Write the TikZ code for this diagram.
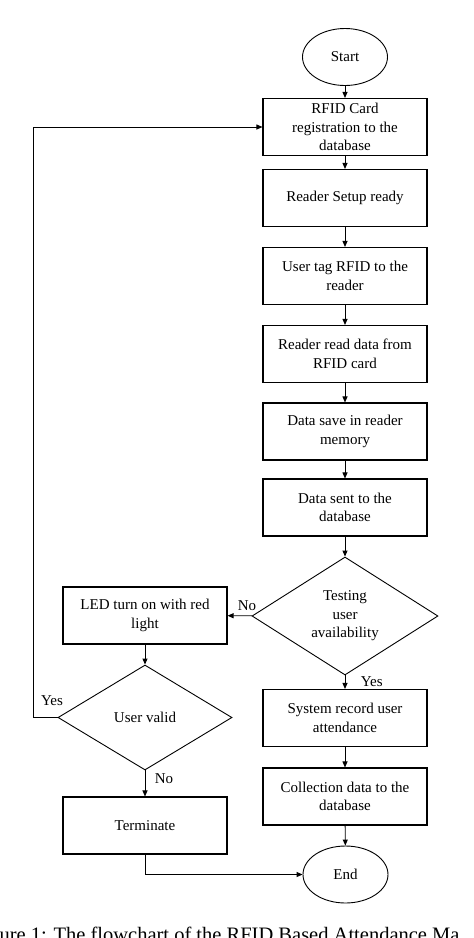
\documentclass[tikz,border=0pt]{standalone}
\usepackage{fontspec}
\setmainfont{Liberation Serif}
\usetikzlibrary{shapes.geometric,arrows.meta}

\begin{document}
\begin{tikzpicture}[x=1pt,y=-1pt,font=\fontsize{15}{18.5}\selectfont,
	>={Triangle[length=6pt,width=5pt]},
	procbox/.style={rectangle,draw,line width=1.1pt,minimum width=164pt,minimum height=57pt,align=center,inner sep=2pt},
	termin/.style={ellipse,draw,line width=0.9pt,minimum width=85pt,minimum height=57pt,inner sep=0pt},
	decide/.style={diamond,draw,line width=0.9pt,align=center,inner sep=0pt},
	flow/.style={->,line width=0.9pt}]
				\useasboundingbox (0,0) rectangle (474,938);
				
				\node (start) at (345,57) [termin] {Start};
				\node (reg) at (345,127) [procbox] {RFID Card\\registration to the\\database};
				\node (setup) at (345,198) [procbox] {Reader Setup ready};
				\node (tag) at (345,276) [procbox] {User tag RFID to the\\reader};
				\node (read) at (345,354) [procbox] {Reader read data from\\RFID card};
				\node (save) at (345,431.5) [procbox] {Data save in reader\\memory};
				\node (sent) at (345,507.5) [procbox] {Data sent to the\\database};
				\node (test) at (345,616) [decide,minimum width=186pt,minimum height=118pt,aspect=1.58] {Testing\\user\\availability};
				\node (led) at (145,615.5) [procbox] {LED turn on with red\\light};
				\node (valid) at (145,717.5) [decide,minimum width=174pt,minimum height=105pt,aspect=1.66] {User valid};
				\node (record) at (345,718) [procbox] {System record user\\attendance};
				\node (collect) at (345,796.5) [procbox] {Collection data to the\\database};
				\node (term) at (145,825.5) [procbox] {Terminate};
				\node (end) at (345.5,874.5) [termin] {End};
				
				\coordinate (loopb) at (33,717.5);
				\coordinate (loopt) at (33,127);
				\coordinate (bend) at (145,874.5);
				
				\draw[flow] (start) -- (reg);
				\draw[flow] (reg) -- (setup);
				\draw[flow] (setup) -- (tag);
				\draw[flow] (tag) -- (read);
				\draw[flow] (read) -- (save);
				\draw[flow] (save) -- (sent);
				\draw[flow] (sent) -- (test);
				\draw[flow] (test) -- node[pos=0.2,above=1pt] {No} (led);
				\draw[flow] (test) -- node[pos=0.45,right=12pt] {Yes} (record);
				\draw[flow] (record) -- (collect);
				\draw[flow] (collect) -- (end);
				\draw[flow] (led) -- (valid);
				\draw[flow] (valid.west) -- (loopb) -- (loopt) -- (reg.west);
				\draw[flow] (valid) -- node[pos=0.3,right=6pt] {No} (term);
				\draw[flow] (term) -- (bend) -- (end.west);
				
				\node (yesloop) at (52,701) {Yes};
				
				\node (caption) at (-4,941) [anchor=base west,font=\fontsize{20.5}{24}\selectfont] {ure 1: The flowchart of the RFID Based Attendance Ma};
			\end{tikzpicture}
\end{document}
